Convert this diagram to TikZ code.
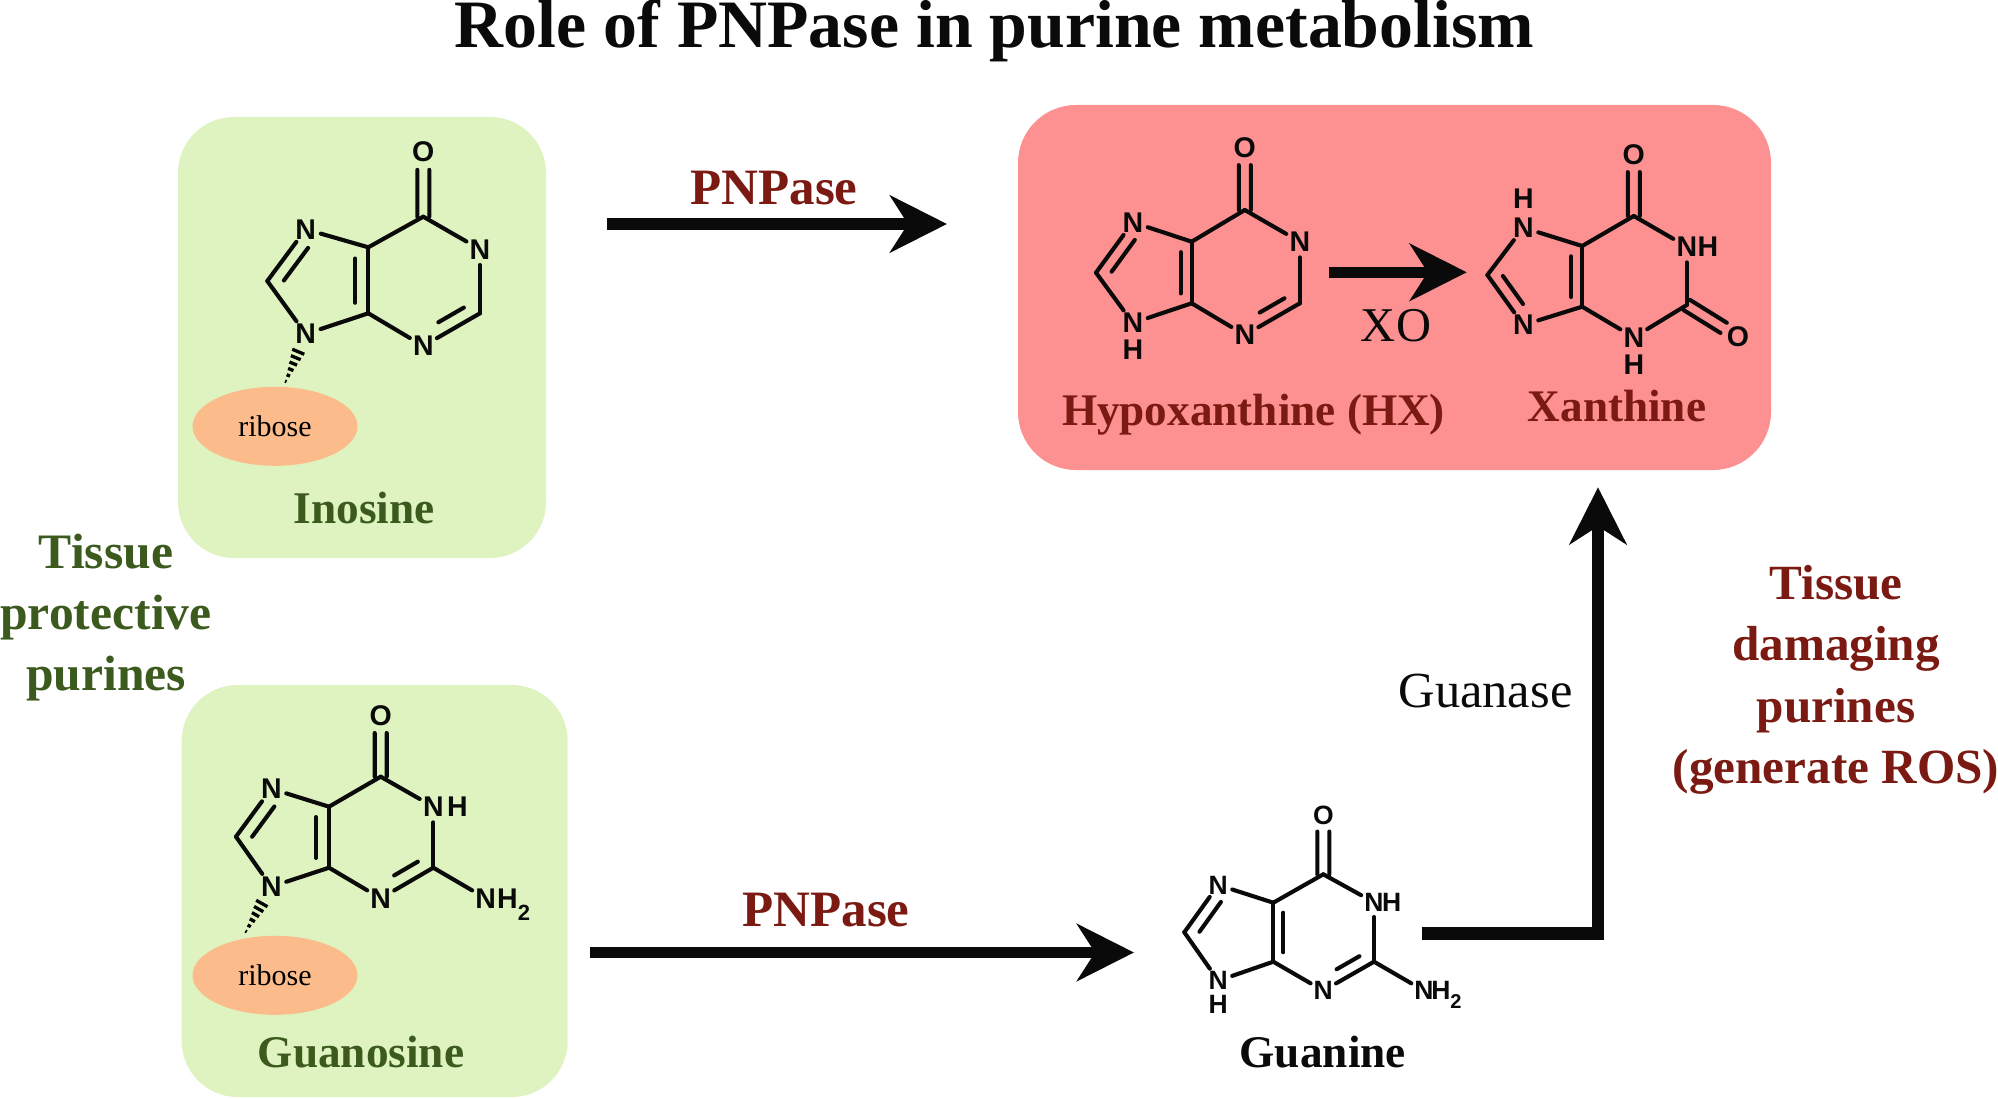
\documentclass[tikz,border=0pt]{standalone}
\usepackage{fontspec}
\setmainfont{Liberation Serif}
\newfontfamily\atomfont{Liberation Sans}
\usetikzlibrary{arrows.meta,calc,shapes.geometric}
\definecolor{boxgreen}{HTML}{DEF3C0}
\definecolor{boxpink}{HTML}{FD9090}
\definecolor{riboseorange}{HTML}{FBBB8A}
\definecolor{labgreen}{HTML}{3C5A1E}
\definecolor{labred}{HTML}{7A1A12}
\definecolor{ink}{HTML}{0A0A0A}
\newcommand{\fs}[1]{\fontsize{#1}{#1}\selectfont}
\newcommand{\dbond}[5]{\draw[bond] let \p1=(#1),\p2=(#2),\n1={veclen(\x2-\x1,\y2-\y1)},\n2={(#3)*(\y1-\y2)/\n1},\n3={(#3)*(\x2-\x1)/\n1} in ($(#1)!#4!(#2)+(\n2,\n3)$) -- ($(#1)!#5!(#2)+(\n2,\n3)$);}
\newcommand{\hashline}[4]{\draw[hash] let \p1=(#1),\p2=(#2),\n1={veclen(\x2-\x1,\y2-\y1)},\n2={(#4)*(\y1-\y2)/\n1},\n3={(#4)*(\x2-\x1)/\n1} in ($(#1)!#3!(#2)+(\n2,\n3)$) -- ($(#1)!#3!(#2)-(\n2,\n3)$);}
% common bond skeleton for the purine rings, prefix #1
\newcommand{\purine}[2]{%
  \draw[bond] (#1C6) -- (#1N1);
  \draw[bond] (#1N1) -- (#1C2);
  \draw[bond] (#1C2) -- (#1N3);
  \draw[bond] (#1N3) -- (#1C4);
  \draw[bond] (#1C4) -- (#1C5);
  \draw[bond] (#1C5) -- (#1C6);
  \draw[bond] (#1C5) -- (#1N7);
  \draw[bond] (#1N7) -- (#1C8);
  \draw[bond] (#1C8) -- (#1N9);
  \draw[bond] (#1N9) -- (#1C4);
  \dbond{#1C6}{#1O}{6}{0}{.72}
  \dbond{#1C6}{#1O}{-6}{0}{.72}
  \dbond{#1C5}{#1C4}{#2}{.17}{.84}
}
\newcommand{\hashes}[2]{%
  \hashline{#1}{#2}{.36}{6.5}
  \hashline{#1}{#2}{.48}{5.3}
  \hashline{#1}{#2}{.60}{4.1}
  \hashline{#1}{#2}{.72}{2.9}
  \hashline{#1}{#2}{.84}{1.8}
  \hashline{#1}{#2}{.96}{.8}
}
\tikzset{
  x=1pt,y=-1pt,
  bond/.style={line width=4.1pt,draw=ink,line cap=round},
  atom/.style={font=\atomfont\bfseries\fs{28.5},text=ink,circle,inner sep=0pt,minimum size=31pt},
  atomh/.style={font=\atomfont\bfseries\fs{28.5},text=ink,inner sep=0pt},
  atomn/.style={font=\atomfont\bfseries\fs{26.5},text=ink,circle,inner sep=0pt,minimum size=29pt},
  atomnh/.style={font=\atomfont\bfseries\fs{26.5},text=ink,inner sep=0pt},
  carbon/.style={coordinate},
  greenbox/.style={fill=boxgreen,draw=none,rounded corners=56pt},
  pinkbox/.style={fill=boxpink,draw=none,rounded corners=58pt},
  ribosenode/.style={ellipse,fill=riboseorange,draw=none,inner sep=0pt,font=\fs{30},text=black},
  greenlab/.style={font=\bfseries\fs{45.3},text=labgreen,inner sep=0pt,anchor=base},
  redlab/.style={font=\bfseries\fs{45.2},text=labred,inner sep=0pt,anchor=base},
  sidelab/.style={font=\bfseries\fontsize{49.6}{61.3}\selectfont,align=center,inner sep=0pt},
  sidelabr/.style={font=\bfseries\fontsize{49.2}{61.3}\selectfont,align=center,inner sep=0pt},
  enzyme/.style={font=\bfseries\fs{51},text=labred,inner sep=0pt,anchor=base},
  plain/.style={font=\fs{50.5},text=ink,inner sep=0pt,anchor=base},
  fat/.style={line width=11.5pt,draw=ink,-{Stealth[length=57pt,width=57pt,inset=18pt]}},
  hash/.style={line width=3.3pt,draw=black},
}
\begin{document}
\begin{tikzpicture}
\useasboundingbox (0,0) rectangle (1998,1099);
\fill[white] (0,0) rectangle (1998,1099);

\node[font=\bfseries\fs{67.8},inner sep=0pt,text=ink,anchor=base] (title) at (994.5,48) {Role of PNPase in purine metabolism};

% boxes
\node[greenbox,minimum width=368pt,minimum height=441pt,inner sep=0pt] (boxI) at (362,337.5) {};
\node[greenbox,minimum width=386pt,minimum height=412pt,inner sep=0pt] (boxG) at (374.7,891) {};
\node[pinkbox,minimum width=753pt,minimum height=365pt,inner sep=0pt] (boxP) at (1394.5,287.5) {};

% Inosine
\node[atom] (iO) at (423.3,151.7) {O};
\node[carbon] (iC6) at (423.3,216.7) {};
\node[atom] (iN1) at (480,249.3) {N};
\node[carbon] (iC2) at (480,313.3) {};
\node[atom] (iN3) at (423.3,346) {N};
\node[carbon] (iC4) at (368.3,313.3) {};
\node[carbon] (iC5) at (368.3,247.3) {};
\node[atom] (iN7) at (305.7,229.3) {N};
\node[carbon] (iC8) at (267.3,281) {};
\node[atom] (iN9) at (305.7,334) {N};
\purine{i}{-13}
\dbond{iC8}{iN7}{-13}{.16}{.79}
\dbond{iC2}{iN3}{-13}{.17}{.62}
\node[carbon] (iT) at (285,383.3) {};
\hashes{iN9}{iT}
\node[ribosenode,minimum width=165pt,minimum height=79pt] (iR) at (275,426.3) {ribose};
\node[greenlab] (iName) at (364.3,523.7) {Inosine};

% Guanosine
\node[atom] (gO) at (380.7,716) {O};
\node[carbon] (gC6) at (380.7,776.7) {};
\node[atom] (gN1) at (433.3,806.7) {N};
\node[atomh] (gH1) at (457.3,806.7) {H};
\node[carbon] (gC2) at (433.3,867.7) {};
\node[atom] (gN3) at (380.7,898.3) {N};
\node[carbon] (gC4) at (329,867.7) {};
\node[carbon] (gC5) at (329,806.7) {};
\node[atom] (gN7) at (271.3,788.7) {N};
\node[carbon] (gC8) at (236,836.7) {};
\node[atom] (gN9) at (271.3,886.7) {N};
\node[atom] (gN2) at (485.7,898.3) {N};
\node[atomh] (gH2) at (507.3,898.3) {H};
\node[atomh] (gS2) at (524,913.3) {\fs{22}2};
\purine{g}{-13}
\draw[bond] (gC2) -- (gN2);
\dbond{gC8}{gN7}{-13}{.16}{.79}
\dbond{gC2}{gN3}{-13}{.17}{.62}
\node[carbon] (gT) at (245,933.3) {};
\hashes{gN9}{gT}
\node[ribosenode,minimum width=165pt,minimum height=79pt] (gR) at (275,975.3) {ribose};
\node[greenlab] (gName) at (361,1067.7) {Guanosine};

% Hypoxanthine
\node[atom] (hO) at (1244.8,147.7) {O};
\node[carbon] (hC6) at (1244.8,210) {};
\node[atom] (hN1) at (1299.8,241.7) {N};
\node[carbon] (hC2) at (1299.8,303.3) {};
\node[atom] (hN3) at (1244.8,335) {N};
\node[carbon] (hC4) at (1191.7,303.3) {};
\node[carbon] (hC5) at (1191.7,241.7) {};
\node[atom] (hN7) at (1132.8,222.3) {N};
\node[carbon] (hC8) at (1096,272.7) {};
\node[atom] (hN9) at (1132.8,323) {N};
\node[atomh] (hH9) at (1132.8,350) {H};
\purine{h}{-11}
\dbond{hC8}{hN7}{-12}{.16}{.79}
\dbond{hC2}{hN3}{-12}{.17}{.62}
\node[redlab] (hName) at (1253.5,425.5) {Hypoxanthine (HX)};

% Xanthine
\node[atom] (xO) at (1633.8,155) {O};
\node[carbon] (xC6) at (1633.8,216) {};
\node[atom] (xN1) at (1686.8,246.7) {N};
\node[atomh] (xH1) at (1708,246.7) {H};
\node[carbon] (xC2) at (1686.8,305) {};
\node[atom] (xO2) at (1737.9,336.7) {O};
\node[atom] (xN3) at (1633.8,337.3) {N};
\node[atomh] (xH3) at (1633.8,365) {H};
\node[carbon] (xC4) at (1582.2,306.7) {};
\node[carbon] (xC5) at (1582.2,246) {};
\node[atom] (xN7) at (1523.3,227.7) {N};
\node[atomh] (xH7) at (1523.3,198.3) {H};
\node[carbon] (xC8) at (1487.4,275) {};
\node[atom] (xN9) at (1523.3,325) {N};
\draw[bond] (xC6) -- (xN1);
\draw[bond] (xN1) -- (xC2);
\draw[bond] (xC2) -- (xN3);
\draw[bond] (xN3) -- (xC4);
\draw[bond] (xC4) -- (xC5);
\draw[bond] (xC5) -- (xC6);
\draw[bond] (xC5) -- (xN7);
\draw[bond] (xN7) -- (xC8);
\draw[bond] (xC8) -- (xN9);
\draw[bond] (xN9) -- (xC4);
\dbond{xC6}{xO}{6}{0}{.72}
\dbond{xC6}{xO}{-6}{0}{.72}
\dbond{xC5}{xC4}{-11}{.17}{.84}
\dbond{xC2}{xO2}{6}{0}{.72}
\dbond{xC2}{xO2}{-6}{0}{.72}
\dbond{xC8}{xN9}{12}{.16}{.72}
\node[redlab] (xName) at (1617,421) {Xanthine};

% Guanine
\node[atomn] (nO) at (1323.3,815) {O};
\node[carbon] (nC6) at (1323.3,874.3) {};
\node[atomn] (nN1) at (1374,902.3) {N};
\node[atomnh] (nH1) at (1391.7,902.3) {H};
\node[carbon] (nC2) at (1374,961.7) {};
\node[atomn] (nN3) at (1323.3,990.7) {N};
\node[carbon] (nC4) at (1273.3,961.7) {};
\node[carbon] (nC5) at (1273.3,902.7) {};
\node[atomn] (nN7) at (1218.3,885) {N};
\node[carbon] (nC8) at (1184.3,932.3) {};
\node[atomn] (nN9) at (1218.3,980.7) {N};
\node[atomnh] (nH9) at (1218.3,1004) {H};
\node[atomn] (nN2) at (1424,990.7) {N};
\node[atomnh] (nH2) at (1441,990.7) {H};
\node[atomnh] (nS2) at (1456,1001.7) {\fs{20}2};
\purine{n}{10}
\draw[bond] (nC2) -- (nN2);
\dbond{nC8}{nN7}{-12}{.16}{.79}
\dbond{nC2}{nN3}{-12}{.17}{.62}
\node[font=\bfseries\fs{45.3},text=ink,inner sep=0pt,anchor=base] (nName) at (1322.8,1067.7) {Guanine};

% connectors
\coordinate (a1s) at (607,224);
\coordinate (a1e) at (947,224);
\draw[fat] (a1s) -- (a1e);
\coordinate (a2s) at (590,952.5);
\coordinate (a2e) at (1134,952.5);
\draw[fat] (a2s) -- (a2e);
\coordinate (a3s) at (1329.3,272.3);
\coordinate (a3e) at (1466.8,272.3);
\draw[fat] (a3s) -- (a3e);
\coordinate (a4s) at (1421.7,933.3);
\coordinate (a4c) at (1598,933.3);
\coordinate (a4e) at (1598,487.3);
\draw[fat,line width=12.5pt] (a4s) -- (a4c) -- (a4e);

% texts
\node[enzyme] (e1) at (774,205) {PNPase};
\node[enzyme] (e2) at (826,926.5) {PNPase};
\node[plain,font=\fs{48.5}] (xo) at (1396,341.7) {XO};
\node[plain] (guanase) at (1485.5,707) {Guanase};
\node[sidelab,text=labgreen] (tp) at (106,617.5) {Tissue\\protective\\purines};
\node[sidelabr,text=labred] (td) at (1836,680) {Tissue\\damaging\\purines\\(generate ROS)};
\end{tikzpicture}
\end{document}
